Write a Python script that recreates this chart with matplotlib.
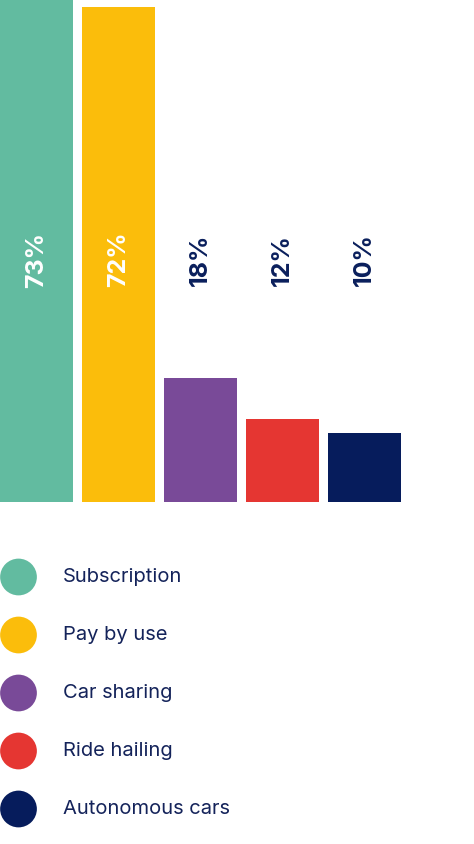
import matplotlib.pyplot as plt

plt.rcParams['font.family'] = ['Inter', 'DejaVu Sans']

# data
categorias = ["Subscription", "Pay by use", "Car sharing", "Ride hailing", "Autonomous cars"]
valores = [73, 72, 18, 12, 10]
etiquetas = ["73%", "72%", "18%", "12%", "10%"]
colores = ["#62bba0", "#fbbd0b", "#794a98", "#e53632", "#061c5c"]
color_texto = ["white", "white", "#0a1f5c", "#0a1f5c", "#0a1f5c"]

W, H = 474, 844
fig = plt.figure(figsize=(W / 100, H / 100), dpi=100)

# barras
base = 501.5
ax = fig.add_axes([0, (H - base) / H, 1, base / H])
ancho = 73 / 82
xs = list(range(len(valores)))
ax.bar(xs, valores, width=ancho, align="edge", color=colores)
for i, v in enumerate(valores):
    ax.text(i + ancho / 2, 35.2, etiquetas[i], rotation=90, ha="center", va="center",
            fontsize=18, fontweight="bold", color=color_texto[i])
ax.set_xlim(0, W / 82)
ax.set_ylim(0, 73)
ax.axis("off")

# leyenda
ax2 = fig.add_axes([0, 0, 1, 300 / H])
ax2.set_xlim(0, W)
ax2.set_ylim(H, H - 300)
ys = [577 + 58 * i for i in range(len(categorias))]
ax2.scatter([18.5] * len(categorias), ys, s=700, c=colores, edgecolors="none")
for y, cat in zip(ys, categorias):
    ax2.text(63, y, cat, ha="left", va="center", fontsize=14.5, color="#14235a")
ax2.axis("off")

fig.savefig("out.png", dpi=100)
